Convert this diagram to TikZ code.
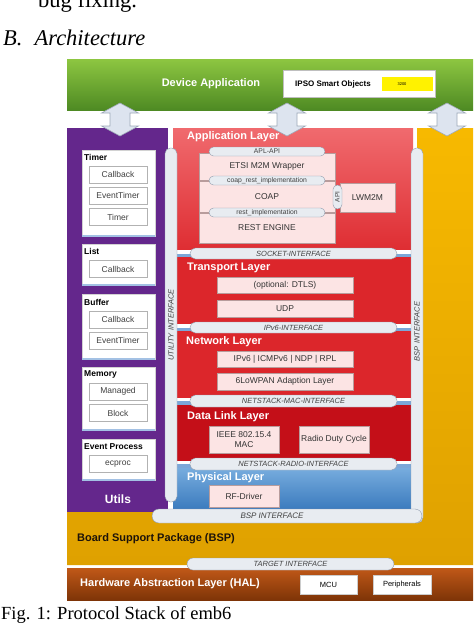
\documentclass[tikz,border=0pt]{standalone}
\usepackage{fontspec}
\setmainfont{Liberation Serif}
\setsansfont{Liberation Sans}
\usetikzlibrary{positioning}

\definecolor{devtop}{HTML}{8DC641}
\definecolor{devbot}{HTML}{4E8A23}
\definecolor{utilpurple}{HTML}{64278C}
\definecolor{bsptop}{HTML}{F7B900}
\definecolor{bspbot}{HTML}{DFA100}
\definecolor{haltop}{HTML}{C05818}
\definecolor{halbot}{HTML}{7E3407}
\definecolor{apptop}{HTML}{F06A6E}
\definecolor{appbot}{HTML}{DE2C31}
\definecolor{netred}{HTML}{DC262B}
\definecolor{linkred}{HTML}{C40F18}
\definecolor{phytop}{HTML}{7DB1E1}
\definecolor{phybot}{HTML}{3B7BBE}
\definecolor{pinkbox}{HTML}{FCE4E4}
\definecolor{pinkline}{HTML}{B89C9C}
\definecolor{pillfill}{HTML}{E8ECF1}
\definecolor{pillline}{HTML}{8E9AAB}
\definecolor{arrowfill}{HTML}{DDE4EF}
\definecolor{arrowline}{HTML}{9EA9B9}
\definecolor{stripblue}{HTML}{7BA7D8}

\begin{document}
\begin{tikzpicture}[x=1pt, y=-1pt,
    title/.style={anchor=west, inner sep=0pt, text=white, font=\sffamily\bfseries\fontsize{11}{13}\selectfont},
    subbox/.style={draw=pinkline, fill=pinkbox, inner sep=0pt, align=center, text=black!80, font=\sffamily\fontsize{8.5}{9.5}\selectfont},
    pill/.style={draw=pillline, fill=pillfill, rounded corners=5.5pt, inner sep=0pt, text=black!75, font=\sffamily\itshape\fontsize{7.5}{8}\selectfont},
    apipill/.style={pill, rounded corners=4.5pt, minimum width=116, minimum height=9, font=\sffamily\fontsize{6.8}{7}\selectfont},
    group/.style={draw=gray!35, fill=white, inner sep=0pt, minimum width=73},
    groupedge/.style={draw=stripblue!70, line width=1.5pt},
    head/.style={anchor=west, inner sep=0pt, font=\sffamily\bfseries\fontsize{8.5}{10}\selectfont},
    item/.style={draw=gray!60, fill=white, inner sep=0pt, minimum width=58, minimum height=17, text=black!75, font=\sffamily\fontsize{8.5}{10}\selectfont},
    bigarrow/.style={draw=arrowline, fill=arrowfill, line width=0.6pt},
    serif/.style={anchor=base west, inner sep=0pt},
  ]
\useasboundingbox (0,0) rectangle (474,625);
\clip (0,0) rectangle (474,625);

\node[serif, font=\rmfamily\fontsize{22.5}{24}\selectfont] (bugtxt) at (38,7) {bug fixing.};
\node[serif, font=\rmfamily\itshape\fontsize{22.5}{24}\selectfont] (sect) at (3,45) {B.\hspace{12pt}Architecture};

\shade[top color=devtop, bottom color=devbot] (67,59) rectangle (473,110);
\node[title, anchor=center] (devapp) at (211,84) {Device Application};
\node[draw=gray!50, fill=white, minimum width=152, minimum height=27, inner sep=0pt] (ipso) at (359,83.5) {};
\node[head, font=\sffamily\bfseries\fontsize{8}{9}\selectfont] (ipsotxt) at (295,84) {IPSO Smart Objects};
\fill[yellow] (382,77) rectangle (433,91);
\node[inner sep=0pt, font=\sffamily\fontsize{4}{5}\selectfont] (objid) at (402,84) {3200};

\shade[top color=bsptop, bottom color=bspbot] (417,128) -- (473,128) -- (473,565) -- (67,565) -- (67,512) -- (417,512) -- cycle;
\shade[top color=haltop, bottom color=halbot] (67,568) rectangle (473,600);
\fill[utilpurple] (67,128) rectangle (168,512);
\shade[top color=apptop, bottom color=appbot] (173,128) rectangle (413,253);
\fill[netred] (173,253) rectangle (413,401);
\fill[linkred] (173,401) rectangle (413,464);
\shade[top color=phytop, bottom color=phybot] (173,464) rectangle (411,509);

\foreach \sy in {253.5,327.5,401,464} {
  \fill[white] (177,\sy-3.5) rectangle (411,\sy+3.5);
  \fill[stripblue] (177,\sy) rectangle (411,\sy+3.5);
}

\node[pill, rotate=90, minimum width=354, minimum height=12] (utilbar) at (171,325) {UTILITY INTERFACE};
\node[pill, rotate=90, minimum width=375, minimum height=12] (bspbar) at (417,335.5) {\hspace*{8pt}BSP INTERFACE};
\node[pill, minimum width=270, minimum height=14, rounded corners=7pt, font=\sffamily\itshape\fontsize{8}{9}\selectfont] (bspif) at (287,516) {\hspace*{-30pt}BSP INTERFACE};

% application layer
\node[title] (applayer) at (187,137) {Application Layer};
\node[subbox, minimum width=136, minimum height=27] (etsi) at (267,166.5) {ETSI M2M Wrapper};
\node[subbox, minimum width=136, minimum height=31] (coap) at (267,196.5) {COAP};
\node[subbox, minimum width=136, minimum height=30] (rest) at (267,228) {REST ENGINE};
\node[subbox, minimum width=55, minimum height=29] (lwm2m) at (367.5,197.5) {LWM2M};
\node[pill, rotate=90, rounded corners=4.5pt, minimum width=24, minimum height=9, font=\sffamily\fontsize{6.5}{7}\selectfont] (api) at (337.5,197) {API};
\node[apipill] (aplapi) at (267,151.5) {APL-API};
\node[apipill] (coaprest) at (267,180.5) {coap\_rest\_implementation};
\node[apipill] (restimpl) at (267,212.5) {rest\_implementation};
\node[pill, minimum width=207, minimum height=11] (socketif) at (293.5,253.5) {SOCKET-INTERFACE};

% transport layer
\node[title] (translayer) at (187,268) {Transport Layer};
\node[subbox, minimum width=136, minimum height=16] (dtls) at (285,285) {(optional: DTLS)};
\node[subbox, minimum width=136, minimum height=17] (udp) at (285,308.5) {UDP};
\node[pill, minimum width=207, minimum height=11] (ipv6if) at (293.5,327.5) {IPv6-INTERFACE};

% network layer
\node[title] (netlayer) at (186,342) {Network Layer};
\node[subbox, minimum width=136, minimum height=16] (ipv6) at (285,359) {IPv6 | ICMPv6 | NDP | RPL};
\node[subbox, minimum width=136, minimum height=17] (lowpan) at (285,381.5) {6LoWPAN Adaption Layer};
\node[pill, minimum width=207, minimum height=12] (macif) at (293.5,401) {NETSTACK-MAC-INTERFACE};

% data link layer
\node[title] (linklayer) at (187,417) {Data Link Layer};
\node[subbox, minimum width=70, minimum height=27] (mac) at (244,439.5) {IEEE 802.15.4\\MAC};
\node[subbox, minimum width=70, minimum height=27] (rdc) at (334,439.5) {Radio Duty Cycle};
\node[pill, minimum width=207, minimum height=12] (radioif) at (293.5,464) {NETSTACK-RADIO-INTERFACE};

% physical layer
\node[title] (phylayer) at (187,478) {Physical Layer};
\node[subbox, minimum width=70, minimum height=22] (rfdrv) at (244,496) {RF-Driver};

% utils
\node[group, minimum height=86] (tgrp) at (118.5,193) {};
\node[group, minimum height=41] (lgrp) at (118.5,264.5) {};
\node[group, minimum height=65] (bgrp) at (118.5,326.5) {};
\node[group, minimum height=63] (mgrp) at (118.5,398.5) {};
\node[group, minimum height=41] (egrp) at (118.5,459.5) {};
\foreach \g in {tgrp,lgrp,bgrp,mgrp,egrp}
  \draw[groupedge] (\g.south west) -- (\g.south east);
\node[head] (timerhd) at (84,157) {Timer};
\node[head] (listhd) at (84,251) {List};
\node[head] (bufhd) at (84,302) {Buffer};
\node[head] (memhd) at (84,374) {Memory};
\node[head] (evhd) at (84,447) {Event Process};
\node[item] (tcb) at (118,174.5) {Callback};
\node[item] (tev) at (118,195.5) {EventTimer};
\node[item] (ttm) at (118,217) {Timer};
\node[item] (lcb) at (118,269) {Callback};
\node[item] (bcb) at (118,319.5) {Callback};
\node[item] (bev) at (118,340.5) {EventTimer};
\node[item] (mman) at (118,391.5) {Managed};
\node[item] (mblk) at (118,413) {Block};
\node[item] (ecproc) at (118,464) {ecproc};
\node[title, anchor=center, font=\sffamily\bfseries\fontsize{12}{14}\selectfont] (utils) at (118,499) {Utils};

% bsp and hal
\node[title, text=black!85!brown] (bsp) at (77,539) {Board Support Package (BSP)};
\node[pill, minimum width=207, minimum height=12, rounded corners=6pt] (targetif) at (290.5,564) {TARGET INTERFACE};
\node[title] (hal) at (80,584) {Hardware Abstraction Layer (HAL)};
\node[draw=gray!40, fill=white, minimum width=57, minimum height=19, inner sep=0pt, font=\sffamily\fontsize{7.5}{9}\selectfont] (mcu) at (328.5,584.5) {MCU};
\node[draw=gray!40, fill=white, minimum width=58, minimum height=19, inner sep=0pt, font=\sffamily\fontsize{7.5}{9}\selectfont] (periph) at (402,584.5) {Peripherals};

\foreach \ax in {120,287,447}
  \draw[bigarrow] (\ax,103) -- ++(18.5,10) -- ++(-8.5,0) -- ++(0,13) -- ++(8.5,0) -- ++(-18.5,10)
    -- ++(-18.5,-10) -- ++(8.5,0) -- ++(0,-13) -- ++(-8.5,0) -- cycle;

\node[serif, font=\rmfamily\fontsize{18.5}{20}\selectfont] (caption) at (1,619) {Fig. 1: Protocol Stack of emb6};
\end{tikzpicture}
\end{document}
